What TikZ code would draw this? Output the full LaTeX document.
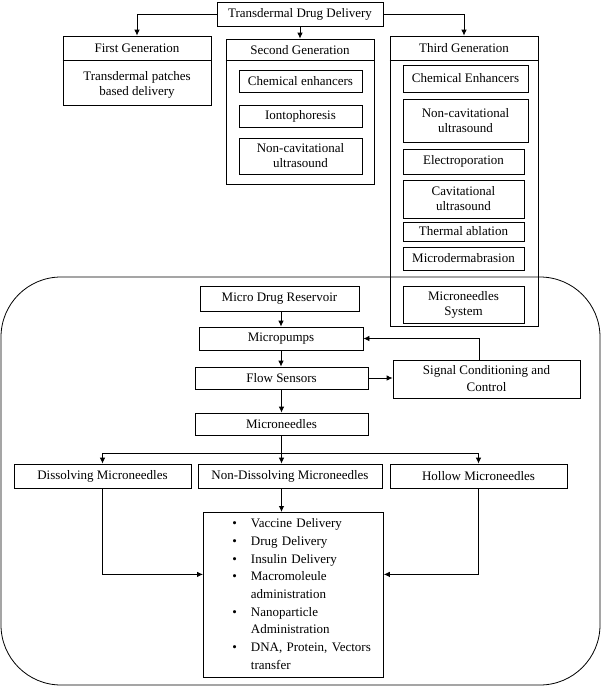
\documentclass[tikz,border=0pt]{standalone}
\usepackage{fontspec}
\setmainfont{Liberation Serif}
\usetikzlibrary{arrows.meta}
\tikzset{
  box/.style={draw, line width=0.8pt, align=center, inner sep=0pt, font=\fontsize{13}{15}\selectfont},
  label/.style={align=center, inner sep=0pt, font=\fontsize{13}{15}\selectfont},
  link/.style={line width=0.8pt, -{Latex[length=6pt,width=5.5pt]}},
  rule/.style={line width=0.8pt}
}
\begin{document}
\begin{tikzpicture}[x=1pt,y=-1pt]
    \useasboundingbox (0,0) rectangle (602,686);
    \draw[rule, rounded corners=60pt] (1,277) rectangle (600,685);
    \node[box, minimum width=166pt, minimum height=24pt] (tdd) at (300,14) {Transdermal Drug Delivery};
    \node[box, minimum width=148pt, minimum height=69pt] (gen1) at (137,70.5) {};
    \node[label] (gen1t) at (137,48) {First Generation};
    \draw[rule] (gen1.west |- 0,60) -- (gen1.east |- 0,60);
    \node[label] (patch) at (137,85) {Transdermal patches\\based delivery};
    \node[box, minimum width=148pt, minimum height=145pt] (gen2) at (300,111.5) {};
    \node[label] (gen2t) at (300,50.5) {Second Generation};
    \draw[rule] (gen2.west |- 0,60) -- (gen2.east |- 0,60);
    \node[box, minimum width=123pt, minimum height=22pt] (chem2) at (300.5,81) {Chemical enhancers};
    \node[box, minimum width=123pt, minimum height=22pt] (ionto) at (300.5,116) {Iontophoresis};
    \node[box, minimum width=123pt, minimum height=36pt] (noncav2) at (300.5,156) {Non-cavitational\\ultrasound};
    \node[box, minimum width=148pt, minimum height=290pt] (gen3) at (464,181) {};
    \node[label] (gen3t) at (464,48) {Third Generation};
    \draw[rule] (gen3.west |- 0,60) -- (gen3.east |- 0,60);
    \node[box, minimum width=125pt, minimum height=27pt] (chem3) at (465.5,78.5) {Chemical Enhancers};
    \node[box, minimum width=125pt, minimum height=43pt] (noncav3) at (465.5,120.5) {Non-cavitational\\ultrasound};
    \node[box, minimum width=121pt, minimum height=25pt] (electro) at (463.5,161.5) {Electroporation};
    \node[box, minimum width=121pt, minimum height=38pt] (cavit) at (463.5,199) {Cavitational\\ultrasound};
    \node[box, minimum width=121pt, minimum height=19pt] (thermal) at (463.5,231.5) {Thermal ablation};
    \node[box, minimum width=121pt, minimum height=23pt] (derm) at (463.5,258.5) {Microdermabrasion};
    \node[box, minimum width=121pt, minimum height=37pt] (mnsys) at (463.5,304.5) {Microneedles\\System};
    \draw[link] (tdd.west) -| (gen1.north);
    \draw[link] (tdd.south) -- (gen2.north);
    \draw[link] (tdd.east) -| (gen3.north);
    \node[box, minimum width=159pt, minimum height=25pt] (mdr) at (279.5,298.5) {Micro Drug Reservoir};
    \node[box, minimum width=164pt, minimum height=23pt] (pump) at (281,338.5) {Micropumps};
    \node[box, minimum width=173pt, minimum height=22pt] (flow) at (281.5,378) {Flow Sensors};
    \node[box, minimum width=187pt, minimum height=38pt, font=\fontsize{13}{17}\selectfont] (signal) at (486.5,379) {Signal Conditioning and\\Control};
    \node[box, minimum width=173pt, minimum height=22pt] (needle) at (281.5,424) {Microneedles};
    \draw[link] (pump.north |- mdr.south) -- (pump.north);
    \draw[link] (pump.south) -- (pump.south |- flow.north);
    \draw[link] (flow.south) -- (flow.south |- needle.north);
    \draw[link] (flow.east) -- (flow.east -| signal.west);
    \draw[link] ([xshift=-7pt]signal.north) |- (pump.east);
    \node[box, minimum width=177pt, minimum height=24pt] (diss) at (102.5,476) {Dissolving Microneedles};
    \node[box, minimum width=184pt, minimum height=24pt] (nondiss) at (290,476) {Non-Dissolving Microneedles};
    \node[box, minimum width=177pt, minimum height=24pt] (hollow) at (478.5,476) {Hollow Microneedles};
    \coordinate (split) at (281,453);
    \draw[link] (needle.south) -- (needle.south |- nondiss.north);
    \draw[link] (split) -| (diss.north);
    \draw[link] (split) -| (hollow.north);
    \node[box, anchor=north west, minimum width=180pt, minimum height=165pt, text width=180pt, align=left,
      font=\fontsize{13}{17.7}\selectfont] (apps) at (203,512) {%
      \begin{tabular}{@{\hspace{29pt}}c@{\hspace{14pt}}l@{}}
        \textbullet & Vaccine Delivery\\
        \textbullet & Drug Delivery\\
        \textbullet & Insulin Delivery\\
        \textbullet & Macromoleule\\
                    & administration\\
        \textbullet & Nanoparticle\\
                    & Administration\\
        \textbullet & DNA, Protein, Vectors\\
                    & transfer
      \end{tabular}};
    \draw[link] (nondiss.south -| needle.south) -- (needle.south |- apps.north);
    \draw[link] (diss.south) |- ([yshift=20.5pt]apps.west);
    \draw[link] (hollow.south) |- ([yshift=20.5pt]apps.east);
\end{tikzpicture}
\end{document}
